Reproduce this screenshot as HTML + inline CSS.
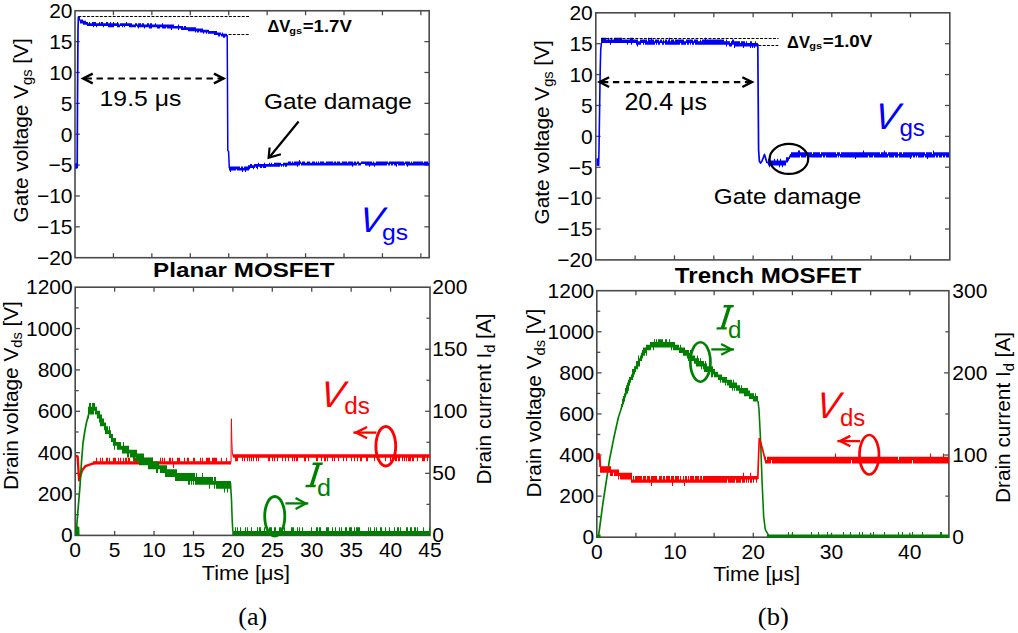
<!DOCTYPE html><html><head><meta charset="utf-8"><style>html,body{margin:0;padding:0;background:#fff;width:1018px;height:633px;overflow:hidden}svg{display:block}</style></head><body><svg width="1018" height="633" viewBox="0 0 1018 633" font-family="Liberation Sans, sans-serif">
<rect width="1018" height="633" fill="#fff"/>
<line x1="113.43" y1="257.70" x2="113.43" y2="253.20" stroke="#4a4a4a" stroke-width="1.3" />
<line x1="113.43" y1="10.75" x2="113.43" y2="15.25" stroke="#4a4a4a" stroke-width="1.3" />
<line x1="151.86" y1="257.70" x2="151.86" y2="253.20" stroke="#4a4a4a" stroke-width="1.3" />
<line x1="151.86" y1="10.75" x2="151.86" y2="15.25" stroke="#4a4a4a" stroke-width="1.3" />
<line x1="190.29" y1="257.70" x2="190.29" y2="253.20" stroke="#4a4a4a" stroke-width="1.3" />
<line x1="190.29" y1="10.75" x2="190.29" y2="15.25" stroke="#4a4a4a" stroke-width="1.3" />
<line x1="228.72" y1="257.70" x2="228.72" y2="253.20" stroke="#4a4a4a" stroke-width="1.3" />
<line x1="228.72" y1="10.75" x2="228.72" y2="15.25" stroke="#4a4a4a" stroke-width="1.3" />
<line x1="267.15" y1="257.70" x2="267.15" y2="253.20" stroke="#4a4a4a" stroke-width="1.3" />
<line x1="267.15" y1="10.75" x2="267.15" y2="15.25" stroke="#4a4a4a" stroke-width="1.3" />
<line x1="305.58" y1="257.70" x2="305.58" y2="253.20" stroke="#4a4a4a" stroke-width="1.3" />
<line x1="305.58" y1="10.75" x2="305.58" y2="15.25" stroke="#4a4a4a" stroke-width="1.3" />
<line x1="344.01" y1="257.70" x2="344.01" y2="253.20" stroke="#4a4a4a" stroke-width="1.3" />
<line x1="344.01" y1="10.75" x2="344.01" y2="15.25" stroke="#4a4a4a" stroke-width="1.3" />
<line x1="382.44" y1="257.70" x2="382.44" y2="253.20" stroke="#4a4a4a" stroke-width="1.3" />
<line x1="382.44" y1="10.75" x2="382.44" y2="15.25" stroke="#4a4a4a" stroke-width="1.3" />
<line x1="420.87" y1="257.70" x2="420.87" y2="253.20" stroke="#4a4a4a" stroke-width="1.3" />
<line x1="420.87" y1="10.75" x2="420.87" y2="15.25" stroke="#4a4a4a" stroke-width="1.3" />
<text x="72.50" y="18.05" font-size="21" text-anchor="end" fill="#000" >20</text>
<line x1="75.00" y1="41.62" x2="79.80" y2="41.62" stroke="#4a4a4a" stroke-width="1.3" />
<line x1="429.20" y1="41.62" x2="424.40" y2="41.62" stroke="#4a4a4a" stroke-width="1.3" />
<text x="72.50" y="48.92" font-size="21" text-anchor="end" fill="#000" >15</text>
<line x1="75.00" y1="72.49" x2="79.80" y2="72.49" stroke="#4a4a4a" stroke-width="1.3" />
<line x1="429.20" y1="72.49" x2="424.40" y2="72.49" stroke="#4a4a4a" stroke-width="1.3" />
<text x="72.50" y="79.79" font-size="21" text-anchor="end" fill="#000" >10</text>
<line x1="75.00" y1="103.36" x2="79.80" y2="103.36" stroke="#4a4a4a" stroke-width="1.3" />
<line x1="429.20" y1="103.36" x2="424.40" y2="103.36" stroke="#4a4a4a" stroke-width="1.3" />
<text x="72.50" y="110.66" font-size="21" text-anchor="end" fill="#000" >5</text>
<line x1="75.00" y1="134.22" x2="79.80" y2="134.22" stroke="#4a4a4a" stroke-width="1.3" />
<line x1="429.20" y1="134.22" x2="424.40" y2="134.22" stroke="#4a4a4a" stroke-width="1.3" />
<text x="72.50" y="141.53" font-size="21" text-anchor="end" fill="#000" >0</text>
<line x1="75.00" y1="165.09" x2="79.80" y2="165.09" stroke="#4a4a4a" stroke-width="1.3" />
<line x1="429.20" y1="165.09" x2="424.40" y2="165.09" stroke="#4a4a4a" stroke-width="1.3" />
<text x="72.50" y="172.39" font-size="21" text-anchor="end" fill="#000" >&#8722;5</text>
<line x1="75.00" y1="195.96" x2="79.80" y2="195.96" stroke="#4a4a4a" stroke-width="1.3" />
<line x1="429.20" y1="195.96" x2="424.40" y2="195.96" stroke="#4a4a4a" stroke-width="1.3" />
<text x="72.50" y="203.26" font-size="21" text-anchor="end" fill="#000" >&#8722;10</text>
<line x1="75.00" y1="226.83" x2="79.80" y2="226.83" stroke="#4a4a4a" stroke-width="1.3" />
<line x1="429.20" y1="226.83" x2="424.40" y2="226.83" stroke="#4a4a4a" stroke-width="1.3" />
<text x="72.50" y="234.13" font-size="21" text-anchor="end" fill="#000" >&#8722;15</text>
<text x="72.50" y="265.00" font-size="21" text-anchor="end" fill="#000" >&#8722;20</text>
<rect x="75.0" y="10.75" width="354.20" height="246.95" fill="none" stroke="#4a4a4a" stroke-width="1.6"/>
<line x1="635.13" y1="259.90" x2="635.13" y2="255.40" stroke="#4a4a4a" stroke-width="1.3" />
<line x1="635.13" y1="12.80" x2="635.13" y2="17.30" stroke="#4a4a4a" stroke-width="1.3" />
<line x1="674.47" y1="259.90" x2="674.47" y2="255.40" stroke="#4a4a4a" stroke-width="1.3" />
<line x1="674.47" y1="12.80" x2="674.47" y2="17.30" stroke="#4a4a4a" stroke-width="1.3" />
<line x1="713.80" y1="259.90" x2="713.80" y2="255.40" stroke="#4a4a4a" stroke-width="1.3" />
<line x1="713.80" y1="12.80" x2="713.80" y2="17.30" stroke="#4a4a4a" stroke-width="1.3" />
<line x1="753.13" y1="259.90" x2="753.13" y2="255.40" stroke="#4a4a4a" stroke-width="1.3" />
<line x1="753.13" y1="12.80" x2="753.13" y2="17.30" stroke="#4a4a4a" stroke-width="1.3" />
<line x1="792.47" y1="259.90" x2="792.47" y2="255.40" stroke="#4a4a4a" stroke-width="1.3" />
<line x1="792.47" y1="12.80" x2="792.47" y2="17.30" stroke="#4a4a4a" stroke-width="1.3" />
<line x1="831.80" y1="259.90" x2="831.80" y2="255.40" stroke="#4a4a4a" stroke-width="1.3" />
<line x1="831.80" y1="12.80" x2="831.80" y2="17.30" stroke="#4a4a4a" stroke-width="1.3" />
<line x1="871.13" y1="259.90" x2="871.13" y2="255.40" stroke="#4a4a4a" stroke-width="1.3" />
<line x1="871.13" y1="12.80" x2="871.13" y2="17.30" stroke="#4a4a4a" stroke-width="1.3" />
<line x1="910.47" y1="259.90" x2="910.47" y2="255.40" stroke="#4a4a4a" stroke-width="1.3" />
<line x1="910.47" y1="12.80" x2="910.47" y2="17.30" stroke="#4a4a4a" stroke-width="1.3" />
<text x="592.80" y="20.10" font-size="21" text-anchor="end" fill="#000" >20</text>
<line x1="595.80" y1="43.69" x2="600.60" y2="43.69" stroke="#4a4a4a" stroke-width="1.3" />
<line x1="949.80" y1="43.69" x2="945.00" y2="43.69" stroke="#4a4a4a" stroke-width="1.3" />
<text x="592.80" y="50.99" font-size="21" text-anchor="end" fill="#000" >15</text>
<line x1="595.80" y1="74.57" x2="600.60" y2="74.57" stroke="#4a4a4a" stroke-width="1.3" />
<line x1="949.80" y1="74.57" x2="945.00" y2="74.57" stroke="#4a4a4a" stroke-width="1.3" />
<text x="592.80" y="81.87" font-size="21" text-anchor="end" fill="#000" >10</text>
<line x1="595.80" y1="105.46" x2="600.60" y2="105.46" stroke="#4a4a4a" stroke-width="1.3" />
<line x1="949.80" y1="105.46" x2="945.00" y2="105.46" stroke="#4a4a4a" stroke-width="1.3" />
<text x="592.80" y="112.76" font-size="21" text-anchor="end" fill="#000" >5</text>
<line x1="595.80" y1="136.35" x2="600.60" y2="136.35" stroke="#4a4a4a" stroke-width="1.3" />
<line x1="949.80" y1="136.35" x2="945.00" y2="136.35" stroke="#4a4a4a" stroke-width="1.3" />
<text x="592.80" y="143.65" font-size="21" text-anchor="end" fill="#000" >0</text>
<line x1="595.80" y1="167.24" x2="600.60" y2="167.24" stroke="#4a4a4a" stroke-width="1.3" />
<line x1="949.80" y1="167.24" x2="945.00" y2="167.24" stroke="#4a4a4a" stroke-width="1.3" />
<text x="592.80" y="174.54" font-size="21" text-anchor="end" fill="#000" >&#8722;5</text>
<line x1="595.80" y1="198.12" x2="600.60" y2="198.12" stroke="#4a4a4a" stroke-width="1.3" />
<line x1="949.80" y1="198.12" x2="945.00" y2="198.12" stroke="#4a4a4a" stroke-width="1.3" />
<text x="592.80" y="205.43" font-size="21" text-anchor="end" fill="#000" >&#8722;10</text>
<line x1="595.80" y1="229.01" x2="600.60" y2="229.01" stroke="#4a4a4a" stroke-width="1.3" />
<line x1="949.80" y1="229.01" x2="945.00" y2="229.01" stroke="#4a4a4a" stroke-width="1.3" />
<text x="592.80" y="236.31" font-size="21" text-anchor="end" fill="#000" >&#8722;15</text>
<text x="592.80" y="267.20" font-size="21" text-anchor="end" fill="#000" >&#8722;20</text>
<rect x="595.8" y="12.8" width="354.00" height="247.10" fill="none" stroke="#4a4a4a" stroke-width="1.6"/>
<text x="75.20" y="557.20" font-size="21" text-anchor="middle" fill="#000" >0</text>
<line x1="114.62" y1="535.40" x2="114.62" y2="530.90" stroke="#4a4a4a" stroke-width="1.3" />
<line x1="114.62" y1="287.20" x2="114.62" y2="291.70" stroke="#4a4a4a" stroke-width="1.3" />
<text x="114.62" y="557.20" font-size="21" text-anchor="middle" fill="#000" >5</text>
<line x1="154.04" y1="535.40" x2="154.04" y2="530.90" stroke="#4a4a4a" stroke-width="1.3" />
<line x1="154.04" y1="287.20" x2="154.04" y2="291.70" stroke="#4a4a4a" stroke-width="1.3" />
<text x="154.04" y="557.20" font-size="21" text-anchor="middle" fill="#000" >10</text>
<line x1="193.47" y1="535.40" x2="193.47" y2="530.90" stroke="#4a4a4a" stroke-width="1.3" />
<line x1="193.47" y1="287.20" x2="193.47" y2="291.70" stroke="#4a4a4a" stroke-width="1.3" />
<text x="193.47" y="557.20" font-size="21" text-anchor="middle" fill="#000" >15</text>
<line x1="232.89" y1="535.40" x2="232.89" y2="530.90" stroke="#4a4a4a" stroke-width="1.3" />
<line x1="232.89" y1="287.20" x2="232.89" y2="291.70" stroke="#4a4a4a" stroke-width="1.3" />
<text x="232.89" y="557.20" font-size="21" text-anchor="middle" fill="#000" >20</text>
<line x1="272.31" y1="535.40" x2="272.31" y2="530.90" stroke="#4a4a4a" stroke-width="1.3" />
<line x1="272.31" y1="287.20" x2="272.31" y2="291.70" stroke="#4a4a4a" stroke-width="1.3" />
<text x="272.31" y="557.20" font-size="21" text-anchor="middle" fill="#000" >25</text>
<line x1="311.73" y1="535.40" x2="311.73" y2="530.90" stroke="#4a4a4a" stroke-width="1.3" />
<line x1="311.73" y1="287.20" x2="311.73" y2="291.70" stroke="#4a4a4a" stroke-width="1.3" />
<text x="311.73" y="557.20" font-size="21" text-anchor="middle" fill="#000" >30</text>
<line x1="351.16" y1="535.40" x2="351.16" y2="530.90" stroke="#4a4a4a" stroke-width="1.3" />
<line x1="351.16" y1="287.20" x2="351.16" y2="291.70" stroke="#4a4a4a" stroke-width="1.3" />
<text x="351.16" y="557.20" font-size="21" text-anchor="middle" fill="#000" >35</text>
<line x1="390.58" y1="535.40" x2="390.58" y2="530.90" stroke="#4a4a4a" stroke-width="1.3" />
<line x1="390.58" y1="287.20" x2="390.58" y2="291.70" stroke="#4a4a4a" stroke-width="1.3" />
<text x="390.58" y="557.20" font-size="21" text-anchor="middle" fill="#000" >40</text>
<text x="430.00" y="557.20" font-size="21" text-anchor="middle" fill="#000" >45</text>
<text x="72.70" y="542.40" font-size="21" text-anchor="end" fill="#000" >0</text>
<line x1="75.20" y1="514.72" x2="78.70" y2="514.72" stroke="#4a4a4a" stroke-width="1.3" />
<line x1="75.20" y1="494.03" x2="80.00" y2="494.03" stroke="#4a4a4a" stroke-width="1.3" />
<text x="72.70" y="501.03" font-size="21" text-anchor="end" fill="#000" >200</text>
<line x1="75.20" y1="473.35" x2="78.70" y2="473.35" stroke="#4a4a4a" stroke-width="1.3" />
<line x1="75.20" y1="452.67" x2="80.00" y2="452.67" stroke="#4a4a4a" stroke-width="1.3" />
<text x="72.70" y="459.67" font-size="21" text-anchor="end" fill="#000" >400</text>
<line x1="75.20" y1="431.98" x2="78.70" y2="431.98" stroke="#4a4a4a" stroke-width="1.3" />
<line x1="75.20" y1="411.30" x2="80.00" y2="411.30" stroke="#4a4a4a" stroke-width="1.3" />
<text x="72.70" y="418.30" font-size="21" text-anchor="end" fill="#000" >600</text>
<line x1="75.20" y1="390.62" x2="78.70" y2="390.62" stroke="#4a4a4a" stroke-width="1.3" />
<line x1="75.20" y1="369.93" x2="80.00" y2="369.93" stroke="#4a4a4a" stroke-width="1.3" />
<text x="72.70" y="376.93" font-size="21" text-anchor="end" fill="#000" >800</text>
<line x1="75.20" y1="349.25" x2="78.70" y2="349.25" stroke="#4a4a4a" stroke-width="1.3" />
<line x1="75.20" y1="328.57" x2="80.00" y2="328.57" stroke="#4a4a4a" stroke-width="1.3" />
<text x="72.70" y="335.57" font-size="21" text-anchor="end" fill="#000" >1000</text>
<line x1="75.20" y1="307.88" x2="78.70" y2="307.88" stroke="#4a4a4a" stroke-width="1.3" />
<text x="72.70" y="294.20" font-size="21" text-anchor="end" fill="#000" >1200</text>
<text x="432.30" y="542.40" font-size="21" text-anchor="start" fill="#000" >0</text>
<line x1="430.00" y1="504.38" x2="426.50" y2="504.38" stroke="#4a4a4a" stroke-width="1.3" />
<line x1="430.00" y1="473.35" x2="425.20" y2="473.35" stroke="#4a4a4a" stroke-width="1.3" />
<text x="432.30" y="480.35" font-size="21" text-anchor="start" fill="#000" >50</text>
<line x1="430.00" y1="442.32" x2="426.50" y2="442.32" stroke="#4a4a4a" stroke-width="1.3" />
<line x1="430.00" y1="411.30" x2="425.20" y2="411.30" stroke="#4a4a4a" stroke-width="1.3" />
<text x="432.30" y="418.30" font-size="21" text-anchor="start" fill="#000" >100</text>
<line x1="430.00" y1="380.27" x2="426.50" y2="380.27" stroke="#4a4a4a" stroke-width="1.3" />
<line x1="430.00" y1="349.25" x2="425.20" y2="349.25" stroke="#4a4a4a" stroke-width="1.3" />
<text x="432.30" y="356.25" font-size="21" text-anchor="start" fill="#000" >150</text>
<line x1="430.00" y1="318.23" x2="426.50" y2="318.23" stroke="#4a4a4a" stroke-width="1.3" />
<text x="432.30" y="294.20" font-size="21" text-anchor="start" fill="#000" >200</text>
<rect x="75.2" y="287.2" width="354.80" height="248.20" fill="none" stroke="#4a4a4a" stroke-width="1.6"/>
<text x="596.80" y="559.00" font-size="21" text-anchor="middle" fill="#000" >0</text>
<line x1="635.92" y1="537.20" x2="635.92" y2="532.70" stroke="#4a4a4a" stroke-width="1.3" />
<line x1="635.92" y1="290.70" x2="635.92" y2="295.20" stroke="#4a4a4a" stroke-width="1.3" />
<line x1="675.04" y1="537.20" x2="675.04" y2="532.70" stroke="#4a4a4a" stroke-width="1.3" />
<line x1="675.04" y1="290.70" x2="675.04" y2="295.20" stroke="#4a4a4a" stroke-width="1.3" />
<text x="675.04" y="559.00" font-size="21" text-anchor="middle" fill="#000" >10</text>
<line x1="714.17" y1="537.20" x2="714.17" y2="532.70" stroke="#4a4a4a" stroke-width="1.3" />
<line x1="714.17" y1="290.70" x2="714.17" y2="295.20" stroke="#4a4a4a" stroke-width="1.3" />
<line x1="753.29" y1="537.20" x2="753.29" y2="532.70" stroke="#4a4a4a" stroke-width="1.3" />
<line x1="753.29" y1="290.70" x2="753.29" y2="295.20" stroke="#4a4a4a" stroke-width="1.3" />
<text x="753.29" y="559.00" font-size="21" text-anchor="middle" fill="#000" >20</text>
<line x1="792.41" y1="537.20" x2="792.41" y2="532.70" stroke="#4a4a4a" stroke-width="1.3" />
<line x1="792.41" y1="290.70" x2="792.41" y2="295.20" stroke="#4a4a4a" stroke-width="1.3" />
<line x1="831.53" y1="537.20" x2="831.53" y2="532.70" stroke="#4a4a4a" stroke-width="1.3" />
<line x1="831.53" y1="290.70" x2="831.53" y2="295.20" stroke="#4a4a4a" stroke-width="1.3" />
<text x="831.53" y="559.00" font-size="21" text-anchor="middle" fill="#000" >30</text>
<line x1="870.66" y1="537.20" x2="870.66" y2="532.70" stroke="#4a4a4a" stroke-width="1.3" />
<line x1="870.66" y1="290.70" x2="870.66" y2="295.20" stroke="#4a4a4a" stroke-width="1.3" />
<line x1="909.78" y1="537.20" x2="909.78" y2="532.70" stroke="#4a4a4a" stroke-width="1.3" />
<line x1="909.78" y1="290.70" x2="909.78" y2="295.20" stroke="#4a4a4a" stroke-width="1.3" />
<text x="909.78" y="559.00" font-size="21" text-anchor="middle" fill="#000" >40</text>
<text x="594.30" y="544.20" font-size="21" text-anchor="end" fill="#000" >0</text>
<line x1="596.80" y1="516.66" x2="600.30" y2="516.66" stroke="#4a4a4a" stroke-width="1.3" />
<line x1="596.80" y1="496.12" x2="601.60" y2="496.12" stroke="#4a4a4a" stroke-width="1.3" />
<text x="594.30" y="503.12" font-size="21" text-anchor="end" fill="#000" >200</text>
<line x1="596.80" y1="475.58" x2="600.30" y2="475.58" stroke="#4a4a4a" stroke-width="1.3" />
<line x1="596.80" y1="455.03" x2="601.60" y2="455.03" stroke="#4a4a4a" stroke-width="1.3" />
<text x="594.30" y="462.03" font-size="21" text-anchor="end" fill="#000" >400</text>
<line x1="596.80" y1="434.49" x2="600.30" y2="434.49" stroke="#4a4a4a" stroke-width="1.3" />
<line x1="596.80" y1="413.95" x2="601.60" y2="413.95" stroke="#4a4a4a" stroke-width="1.3" />
<text x="594.30" y="420.95" font-size="21" text-anchor="end" fill="#000" >600</text>
<line x1="596.80" y1="393.41" x2="600.30" y2="393.41" stroke="#4a4a4a" stroke-width="1.3" />
<line x1="596.80" y1="372.87" x2="601.60" y2="372.87" stroke="#4a4a4a" stroke-width="1.3" />
<text x="594.30" y="379.87" font-size="21" text-anchor="end" fill="#000" >800</text>
<line x1="596.80" y1="352.32" x2="600.30" y2="352.32" stroke="#4a4a4a" stroke-width="1.3" />
<line x1="596.80" y1="331.78" x2="601.60" y2="331.78" stroke="#4a4a4a" stroke-width="1.3" />
<text x="594.30" y="338.78" font-size="21" text-anchor="end" fill="#000" >1000</text>
<line x1="596.80" y1="311.24" x2="600.30" y2="311.24" stroke="#4a4a4a" stroke-width="1.3" />
<text x="594.30" y="297.70" font-size="21" text-anchor="end" fill="#000" >1200</text>
<text x="952.30" y="544.20" font-size="21" text-anchor="start" fill="#000" >0</text>
<line x1="948.90" y1="496.12" x2="945.40" y2="496.12" stroke="#4a4a4a" stroke-width="1.3" />
<line x1="948.90" y1="455.03" x2="944.10" y2="455.03" stroke="#4a4a4a" stroke-width="1.3" />
<text x="952.30" y="462.03" font-size="21" text-anchor="start" fill="#000" >100</text>
<line x1="948.90" y1="413.95" x2="945.40" y2="413.95" stroke="#4a4a4a" stroke-width="1.3" />
<line x1="948.90" y1="372.87" x2="944.10" y2="372.87" stroke="#4a4a4a" stroke-width="1.3" />
<text x="952.30" y="379.87" font-size="21" text-anchor="start" fill="#000" >200</text>
<line x1="948.90" y1="331.78" x2="945.40" y2="331.78" stroke="#4a4a4a" stroke-width="1.3" />
<text x="952.30" y="297.70" font-size="21" text-anchor="start" fill="#000" >300</text>
<rect x="596.8" y="290.7" width="352.10" height="246.50" fill="none" stroke="#4a4a4a" stroke-width="1.6"/>
<text transform="translate(27.80,130.40) rotate(-90)" font-size="20.8" text-anchor="middle">Gate voltage V<tspan font-size="14.6" dy="4">gs</tspan><tspan dy="-4"> [V]</tspan></text>
<text transform="translate(548.80,132.30) rotate(-90)" font-size="20.8" text-anchor="middle">Gate voltage V<tspan font-size="14.6" dy="4">gs</tspan><tspan dy="-4"> [V]</tspan></text>
<text transform="translate(18.20,395.50) rotate(-90)" font-size="20.8" text-anchor="middle">Drain voltage V<tspan font-size="14.6" dy="4">ds</tspan><tspan dy="-4"> [V]</tspan></text>
<text transform="translate(541.20,403.20) rotate(-90)" font-size="20.8" text-anchor="middle">Drain voltage V<tspan font-size="14.6" dy="4">ds</tspan><tspan dy="-4"> [V]</tspan></text>
<text transform="translate(490.60,399.00) rotate(-90)" font-size="20.8" text-anchor="middle">Drain current I<tspan font-size="14.6" dy="4">d</tspan><tspan dy="-4"> [A]</tspan></text>
<text transform="translate(1010.40,417.50) rotate(-90)" font-size="20.8" text-anchor="middle">Drain current I<tspan font-size="14.6" dy="4">d</tspan><tspan dy="-4"> [A]</tspan></text>
<path d="M75.3,166.0 L77.4,166.0" fill="none" stroke="#0000ff" stroke-width="5.5" stroke-linejoin="round" stroke-linecap="butt"/>
<path d="M77.2,168.0 L77.5,100.0 L78.0,30.0 L78.4,16.5" fill="none" stroke="#0000ff" stroke-width="1.7" stroke-linejoin="round" stroke-linecap="butt"/>
<path d="M78.5,16.80V20.80M79.5,16.80V20.80M80.5,19.40V23.40M81.5,19.40V23.40M82.5,19.40V23.40M83.5,20.70V24.70M84.5,20.70V24.70M85.5,20.70V24.70M86.5,22.00V24.70M87.5,22.00V26.00M88.5,23.30V26.00M89.5,22.00V26.00M90.5,23.30V26.00M91.5,23.30V26.00M92.5,22.00V26.00M93.5,22.00V27.30M94.5,22.00V26.00M95.5,22.00V26.00M96.5,23.30V27.30M97.5,23.30V26.00M98.5,23.30V26.00M99.5,22.00V26.00M100.5,23.30V26.00M101.5,22.00V26.00M102.5,22.00V26.00M103.5,23.30V27.30M104.5,23.30V26.00M105.5,23.30V26.00M106.5,22.00V26.00M107.5,22.00V26.00M108.5,23.30V27.30M109.5,23.30V27.30M110.5,22.00V27.30M111.5,23.30V27.30M112.5,23.30V27.30M113.5,22.00V27.30M114.5,23.30V26.00M115.5,23.30V26.00M116.5,23.30V26.00M117.5,22.00V27.30M118.5,23.30V27.30M119.5,24.60V27.30M120.5,23.30V26.00M121.5,23.30V26.00M122.5,23.30V27.30M123.5,23.30V26.00M124.5,23.30V27.30M125.5,23.30V26.00M126.5,22.00V26.00M127.5,23.30V26.00M128.5,23.30V26.00M129.5,23.30V27.30M130.5,23.30V27.30M131.5,23.30V27.30M132.5,24.60V27.30M133.5,24.60V27.30M134.5,24.60V27.30M135.5,23.30V27.30M136.5,23.30V26.00M137.5,24.60V27.30M138.5,23.30V28.60M139.5,23.30V27.30M140.5,23.30V27.30M141.5,24.60V27.30M142.5,23.30V27.30M143.5,23.30V27.30M144.5,24.60V28.60M145.5,24.60V27.30M146.5,24.60V27.30M147.5,23.30V27.30M148.5,23.30V27.30M149.5,24.60V28.60M150.5,23.30V28.60M151.5,23.30V28.60M152.5,24.60V27.30M153.5,24.60V27.30M154.5,24.60V27.30M155.5,23.30V27.30M156.5,24.60V27.30M157.5,24.60V28.60M158.5,24.60V28.60M159.5,24.60V28.60M160.5,24.60V27.30M161.5,24.60V27.30M162.5,23.30V28.60M163.5,24.60V28.60M164.5,24.60V28.60M165.5,24.60V28.60M166.5,24.60V27.30M167.5,24.60V28.60M168.5,24.60V28.60M169.5,24.60V28.60M170.5,24.60V28.60M171.5,24.60V29.90M172.5,24.60V28.60M173.5,24.60V28.60M174.5,25.90V28.60M175.5,25.90V28.60M176.5,25.90V28.60M177.5,25.90V28.60M178.5,24.60V29.90M179.5,25.90V28.60M180.5,25.90V28.60M181.5,25.90V29.90M182.5,25.90V29.90M183.5,27.20V29.90M184.5,25.90V29.90M185.5,25.90V29.90M186.5,27.20V29.90M187.5,27.20V29.90M188.5,27.20V31.20M189.5,27.20V31.20M190.5,27.20V31.20M191.5,27.20V31.20M192.5,27.20V31.20M193.5,27.20V31.20M194.5,27.20V31.20M195.5,27.20V32.50M196.5,28.50V31.20M197.5,28.50V32.50M198.5,28.50V32.50M199.5,28.50V31.20M200.5,28.50V32.50M201.5,28.50V32.50M202.5,28.50V32.50M203.5,29.80V33.80M204.5,29.80V32.50M205.5,29.80V32.50M206.5,29.80V33.80M207.5,29.80V32.50M208.5,29.80V33.80M209.5,31.10V33.80M210.5,31.10V33.80M211.5,31.10V33.80M212.5,31.10V33.80M213.5,31.10V33.80M214.5,31.10V35.10M215.5,31.10V35.10M216.5,31.10V35.10M217.5,32.40V35.10M218.5,32.40V36.40M219.5,32.40V36.40M220.5,32.40V35.10M221.5,33.70V36.40M222.5,32.40V36.40M223.5,33.70V37.70M224.5,33.70V37.70M225.5,33.70V36.40M226.5,33.70V36.40" stroke="#0000ff" stroke-width="1.05" fill="none"/>
<path d="M227.2,35.0 L227.5,90.0 L227.8,150.6 L228.6,151.5 L229.3,168.0" fill="none" stroke="#0000ff" stroke-width="1.5" stroke-linejoin="round" stroke-linecap="butt"/>
<path d="M229.5,166.60V170.60M230.5,166.60V171.90M231.5,166.60V170.60M232.5,166.60V170.60M233.5,166.60V170.60M234.5,166.60V170.60M235.5,166.60V170.60M236.5,166.60V169.30M237.5,166.60V170.60M238.5,166.60V170.60M239.5,166.60V170.60M240.5,167.90V170.60M241.5,166.60V170.60M242.5,166.60V171.90M243.5,167.90V170.60M244.5,166.60V170.60M245.5,166.60V171.90M246.5,166.60V170.60M247.5,166.60V170.60M248.5,165.30V170.60M249.5,165.30V169.30M250.5,164.00V168.00M251.5,164.00V168.00M252.5,165.30V168.00M253.5,165.30V169.30M254.5,164.00V168.00M255.5,164.00V166.70M256.5,164.00V168.00M257.5,164.00V169.30M258.5,162.70V166.70M259.5,164.00V166.70M260.5,164.00V168.00M261.5,164.00V168.00M262.5,164.00V166.70M263.5,164.00V168.00M264.5,162.70V168.00M265.5,164.00V168.00M266.5,164.00V166.70M267.5,164.00V166.70M268.5,164.00V166.70M269.5,162.70V166.70M270.5,164.00V166.70M271.5,162.70V166.70M272.5,164.00V166.70M273.5,164.00V166.70M274.5,162.70V166.70M275.5,162.70V166.70M276.5,162.70V166.70M277.5,162.70V166.70M278.5,162.70V166.70M279.5,162.70V166.70M280.5,162.70V165.40M281.5,164.00V166.70M282.5,164.00V165.40M283.5,162.70V166.70M284.5,162.70V165.40M285.5,162.70V166.70M286.5,162.70V166.70M287.5,162.70V165.40M288.5,161.40V165.40M289.5,161.40V165.40M290.5,161.40V165.40M291.5,162.70V165.40M292.5,161.40V165.40M293.5,162.70V165.40M294.5,161.40V165.40M295.5,161.40V165.40M296.5,161.40V165.40M297.5,161.40V166.70M298.5,161.40V165.40M299.5,160.10V165.40M300.5,161.40V164.10M301.5,162.70V165.40M302.5,161.40V165.40M303.5,161.40V165.40M304.5,161.40V165.40M305.5,162.70V165.40M306.5,162.70V165.40M307.5,161.40V165.40M308.5,161.40V165.40M309.5,161.40V165.40M310.5,162.70V165.40M311.5,162.70V165.40M312.5,161.40V165.40M313.5,161.40V165.40M314.5,161.40V165.40M315.5,162.70V165.40M316.5,161.40V165.40M317.5,162.70V165.40M318.5,161.40V165.40M319.5,162.70V165.40M320.5,161.40V165.40M321.5,161.40V165.40M322.5,161.40V165.40M323.5,161.40V165.40M324.5,162.70V165.40M325.5,162.70V165.40M326.5,161.40V165.40M327.5,161.40V165.40M328.5,161.40V165.40M329.5,161.40V165.40M330.5,161.40V165.40M331.5,161.40V165.40M332.5,161.40V165.40M333.5,162.70V165.40M334.5,161.40V165.40M335.5,161.40V165.40M336.5,162.70V165.40M337.5,161.40V165.40M338.5,161.40V165.40M339.5,161.40V165.40M340.5,162.70V165.40M341.5,162.70V165.40M342.5,161.40V165.40M343.5,161.40V165.40M344.5,161.40V165.40M345.5,161.40V165.40M346.5,161.40V165.40M347.5,162.70V165.40M348.5,161.40V165.40M349.5,161.40V165.40M350.5,161.40V165.40M351.5,161.40V165.40M352.5,161.40V166.70M353.5,162.70V165.40M354.5,161.40V165.40M355.5,161.40V165.40M356.5,162.70V165.40M357.5,161.40V164.10M358.5,161.40V165.40M359.5,162.70V165.40M360.5,162.70V165.40M361.5,161.40V164.10M362.5,161.40V164.10M363.5,161.40V164.10M364.5,161.40V164.10M365.5,161.40V165.40M366.5,161.40V165.40M367.5,161.40V165.40M368.5,161.40V165.40M369.5,161.40V166.70M370.5,161.40V165.40M371.5,161.40V165.40M372.5,162.70V165.40M373.5,161.40V165.40M374.5,162.70V166.70M375.5,162.70V165.40M376.5,161.40V165.40M377.5,161.40V165.40M378.5,161.40V165.40M379.5,161.40V165.40M380.5,161.40V165.40M381.5,161.40V165.40M382.5,161.40V165.40M383.5,161.40V165.40M384.5,161.40V165.40M385.5,161.40V165.40M386.5,161.40V165.40M387.5,161.40V164.10M388.5,162.70V165.40M389.5,161.40V165.40M390.5,161.40V164.10M391.5,161.40V165.40M392.5,161.40V165.40M393.5,161.40V164.10M394.5,161.40V165.40M395.5,161.40V165.40M396.5,161.40V166.70M397.5,161.40V164.10M398.5,161.40V165.40M399.5,161.40V165.40M400.5,161.40V165.40M401.5,161.40V165.40M402.5,161.40V165.40M403.5,161.40V165.40M404.5,162.70V165.40M405.5,161.40V164.10M406.5,161.40V165.40M407.5,161.40V166.70M408.5,161.40V165.40M409.5,161.40V165.40M410.5,162.70V165.40M411.5,161.40V165.40M412.5,162.70V165.40M413.5,161.40V165.40M414.5,161.40V165.40M415.5,161.40V165.40M416.5,161.40V165.40M417.5,161.40V165.40M418.5,161.40V165.40M419.5,161.40V165.40M420.5,161.40V165.40M421.5,161.40V165.40M422.5,161.40V165.40M423.5,162.70V165.40M424.5,161.40V165.40M425.5,161.40V165.40M426.5,161.40V165.40M427.5,161.40V165.40M428.5,162.70V165.40" stroke="#0000ff" stroke-width="1.05" fill="none"/>
<path d="M596.5,162.0 L598.6,162.0" fill="none" stroke="#0000ff" stroke-width="7.5" stroke-linejoin="round" stroke-linecap="butt"/>
<path d="M598.6,166.0 L599.0,150.0 L599.6,110.0 L600.2,70.0 L600.7,50.0 L601.4,43.0" fill="none" stroke="#0000ff" stroke-width="1.6" stroke-linejoin="round" stroke-linecap="butt"/>
<path d="M601.5,37.80V43.00M602.5,37.80V43.00M603.5,37.80V43.00M604.5,37.80V43.00M605.5,37.80V43.00M606.5,39.50V43.00M607.5,39.50V43.00M608.5,37.80V43.00M609.5,39.50V43.00M610.5,39.50V44.70M611.5,37.80V43.00M612.5,39.50V43.00M613.5,39.50V43.00M614.5,37.80V43.00M615.5,37.80V43.00M616.5,37.80V43.00M617.5,37.80V43.00M618.5,37.80V43.00M619.5,37.80V43.00M620.5,37.80V43.00M621.5,37.80V43.00M622.5,39.50V43.00M623.5,39.50V43.00M624.5,39.50V43.00M625.5,39.50V43.00M626.5,39.50V43.00M627.5,39.50V44.70M628.5,39.50V43.00M629.5,39.50V43.00M630.5,37.80V43.00M631.5,37.80V44.70M632.5,37.80V43.00M633.5,39.50V43.00M634.5,39.50V43.00M635.5,39.50V43.00M636.5,39.50V44.70M637.5,39.50V46.40M638.5,41.20V44.70M639.5,41.20V44.70M640.5,39.50V44.70M641.5,39.50V43.00M642.5,39.50V43.00M643.5,39.50V44.70M644.5,39.50V43.00M645.5,39.50V44.70M646.5,39.50V44.70M647.5,41.20V44.70M648.5,37.80V44.70M649.5,39.50V44.70M650.5,39.50V44.70M651.5,37.80V44.70M652.5,39.50V44.70M653.5,39.50V44.70M654.5,41.20V44.70M655.5,39.50V43.00M656.5,39.50V44.70M657.5,39.50V43.00M658.5,39.50V44.70M659.5,41.20V44.70M660.5,39.50V43.00M661.5,39.50V43.00M662.5,41.20V44.70M663.5,39.50V44.70M664.5,41.20V43.00M665.5,39.50V44.70M666.5,39.50V44.70M667.5,41.20V44.70M668.5,39.50V44.70M669.5,37.80V44.70M670.5,41.20V44.70M671.5,39.50V44.70M672.5,39.50V44.70M673.5,39.50V44.70M674.5,41.20V44.70M675.5,39.50V44.70M676.5,39.50V44.70M677.5,39.50V44.70M678.5,39.50V44.70M679.5,39.50V44.70M680.5,39.50V43.00M681.5,39.50V44.70M682.5,39.50V44.70M683.5,39.50V44.70M684.5,41.20V44.70M685.5,41.20V44.70M686.5,39.50V43.00M687.5,39.50V44.70M688.5,39.50V44.70M689.5,39.50V43.00M690.5,39.50V44.70M691.5,39.50V43.00M692.5,39.50V44.70M693.5,41.20V44.70M694.5,39.50V43.00M695.5,39.50V44.70M696.5,39.50V44.70M697.5,39.50V44.70M698.5,41.20V44.70M699.5,41.20V44.70M700.5,39.50V44.70M701.5,41.20V44.70M702.5,39.50V44.70M703.5,39.50V44.70M704.5,39.50V44.70M705.5,37.80V44.70M706.5,39.50V44.70M707.5,39.50V44.70M708.5,39.50V44.70M709.5,39.50V44.70M710.5,39.50V44.70M711.5,39.50V44.70M712.5,39.50V44.70M713.5,39.50V44.70M714.5,39.50V44.70M715.5,39.50V44.70M716.5,39.50V44.70M717.5,39.50V44.70M718.5,39.50V44.70M719.5,39.50V44.70M720.5,39.50V44.70M721.5,39.50V44.70M722.5,39.50V44.70M723.5,39.50V44.70M724.5,41.20V44.70M725.5,41.20V44.70M726.5,39.50V46.40M727.5,41.20V44.70M728.5,41.20V44.70M729.5,41.20V46.40M730.5,42.90V46.40M731.5,41.20V46.40M732.5,39.50V44.70M733.5,39.50V44.70M734.5,41.20V48.10M735.5,41.20V46.40M736.5,41.20V46.40M737.5,41.20V46.40M738.5,41.20V46.40M739.5,41.20V46.40M740.5,42.90V46.40M741.5,41.20V46.40M742.5,41.20V46.40M743.5,41.20V48.10M744.5,41.20V46.40M745.5,42.90V46.40M746.5,41.20V46.40M747.5,42.90V46.40M748.5,42.90V46.40M749.5,42.90V46.40M750.5,41.20V48.10M751.5,41.20V46.40M752.5,42.90V48.10M753.5,42.90V46.40M754.5,42.90V48.10M755.5,41.20V46.40M756.5,42.90V46.40M757.5,42.90V48.10" stroke="#0000ff" stroke-width="1.05" fill="none"/>
<path d="M757.8,44.0 L758.2,100.0 L758.6,150.0 L759.4,161.5 L760.6,163.0 L762.0,161.0 L764.5,154.5 L766.9,162.4 L768.9,163.0" fill="none" stroke="#0000ff" stroke-width="1.7" stroke-linejoin="round" stroke-linecap="butt"/>
<path d="M768.5,158.70V165.60M769.5,160.40V167.30M770.5,160.40V165.60M771.5,160.40V165.60M772.5,160.40V165.60M773.5,160.40V165.60M774.5,158.70V165.60M775.5,160.40V165.60M776.5,160.40V165.60M777.5,158.70V165.60M778.5,160.40V165.60M779.5,160.40V167.30M780.5,158.70V165.60M781.5,160.40V165.60M782.5,160.40V167.30M783.5,160.40V165.60M784.5,160.40V165.60M785.5,160.40V165.60" stroke="#0000ff" stroke-width="1.05" fill="none"/>
<path d="M786.5,157.30V162.50M787.5,157.30V162.50M788.5,157.30V160.80M789.5,155.60V159.10M790.5,153.90V157.40M791.5,152.20V157.40M792.5,152.20V157.40M793.5,152.20V157.40M794.5,152.20V157.40M795.5,152.20V157.40M796.5,152.20V157.40M797.5,152.20V157.40M798.5,150.50V157.40M799.5,150.50V157.40M800.5,152.20V155.70M801.5,152.20V157.40M802.5,152.20V157.40M803.5,152.20V157.40M804.5,152.20V157.40M805.5,152.20V157.40M806.5,152.20V155.70M807.5,152.20V155.70M808.5,152.20V157.40M809.5,152.20V157.40M810.5,152.20V157.40M811.5,152.20V157.40M812.5,153.90V157.40M813.5,152.20V157.40M814.5,152.20V157.40M815.5,152.20V157.40M816.5,152.20V157.40M817.5,152.20V157.40M818.5,152.20V157.40M819.5,152.20V157.40M820.5,153.90V157.40M821.5,152.20V157.40M822.5,152.20V155.70M823.5,152.20V157.40M824.5,152.20V157.40M825.5,152.20V155.70M826.5,152.20V157.40M827.5,152.20V157.40M828.5,152.20V157.40M829.5,152.20V157.40M830.5,152.20V157.40M831.5,152.20V157.40M832.5,152.20V157.40M833.5,152.20V157.40M834.5,152.20V157.40M835.5,152.20V157.40M836.5,153.90V157.40M837.5,152.20V155.70M838.5,152.20V157.40M839.5,152.20V155.70M840.5,153.90V157.40M841.5,152.20V157.40M842.5,152.20V157.40M843.5,152.20V157.40M844.5,152.20V157.40M845.5,152.20V157.40M846.5,152.20V157.40M847.5,152.20V157.40M848.5,152.20V157.40M849.5,152.20V157.40M850.5,152.20V157.40M851.5,152.20V157.40M852.5,152.20V157.40M853.5,152.20V157.40M854.5,152.20V157.40M855.5,152.20V159.10M856.5,152.20V157.40M857.5,152.20V157.40M858.5,152.20V157.40M859.5,152.20V157.40M860.5,152.20V157.40M861.5,152.20V157.40M862.5,152.20V157.40M863.5,150.50V157.40M864.5,152.20V157.40M865.5,152.20V157.40M866.5,152.20V157.40M867.5,152.20V157.40M868.5,152.20V155.70M869.5,152.20V157.40M870.5,152.20V157.40M871.5,152.20V157.40M872.5,152.20V157.40M873.5,152.20V155.70M874.5,152.20V157.40M875.5,152.20V157.40M876.5,152.20V157.40M877.5,152.20V157.40M878.5,152.20V157.40M879.5,152.20V157.40M880.5,153.90V157.40M881.5,152.20V157.40M882.5,152.20V157.40M883.5,152.20V157.40M884.5,150.50V157.40M885.5,152.20V157.40M886.5,152.20V157.40M887.5,153.90V157.40M888.5,152.20V155.70M889.5,152.20V157.40M890.5,152.20V157.40M891.5,152.20V157.40M892.5,152.20V157.40M893.5,152.20V157.40M894.5,152.20V155.70M895.5,152.20V157.40M896.5,152.20V157.40M897.5,152.20V157.40M898.5,153.90V155.70M899.5,152.20V157.40M900.5,152.20V157.40M901.5,152.20V157.40M902.5,153.90V157.40M903.5,152.20V157.40M904.5,152.20V157.40M905.5,152.20V157.40M906.5,152.20V157.40M907.5,152.20V157.40M908.5,152.20V157.40M909.5,152.20V157.40M910.5,152.20V159.10M911.5,152.20V157.40M912.5,152.20V155.70M913.5,152.20V157.40M914.5,152.20V157.40M915.5,152.20V155.70M916.5,152.20V157.40M917.5,152.20V155.70M918.5,152.20V157.40M919.5,152.20V157.40M920.5,152.20V157.40M921.5,152.20V157.40M922.5,152.20V157.40M923.5,152.20V157.40M924.5,152.20V155.70M925.5,153.90V157.40M926.5,152.20V157.40M927.5,152.20V159.10M928.5,152.20V157.40M929.5,152.20V157.40M930.5,152.20V157.40M931.5,152.20V157.40M932.5,153.90V157.40M933.5,150.50V157.40M934.5,152.20V157.40M935.5,152.20V155.70M936.5,152.20V157.40M937.5,152.20V157.40M938.5,152.20V155.70M939.5,152.20V157.40M940.5,152.20V157.40M941.5,152.20V157.40M942.5,152.20V155.70M943.5,152.20V157.40M944.5,152.20V157.40M945.5,152.20V155.70M946.5,152.20V157.40M947.5,152.20V157.40M948.5,152.20V157.40" stroke="#0000ff" stroke-width="1.05" fill="none"/>
<path d="M75.3,455.8 L77.6,456.5 L79.1,480.3 L82.0,470.4 L85.5,466.1 L93.3,463.3 L96.0,462.8" fill="none" stroke="#ff0000" stroke-width="2.4" stroke-linejoin="round" stroke-linecap="butt"/>
<path d="M93.5,461.25V464.55M94.5,461.25V464.55M95.5,461.25V464.55M96.5,457.80V464.55M97.5,461.25V464.55M98.5,461.25V464.55M99.5,461.25V464.55M100.5,457.80V464.55M101.5,461.25V464.55M102.5,457.80V464.55M103.5,461.25V464.55M104.5,461.25V464.55M105.5,461.25V464.55M106.5,457.80V464.55M107.5,457.80V464.55M108.5,461.25V464.55M109.5,457.80V464.55M110.5,461.25V464.55M111.5,461.25V464.55M112.5,461.25V464.55M113.5,457.80V464.55M114.5,457.80V464.55M115.5,457.80V464.55M116.5,461.25V464.55M117.5,461.25V464.55M118.5,457.80V464.55M119.5,461.25V464.55M120.5,457.80V464.55M121.5,461.25V464.55M122.5,461.25V464.55M123.5,457.80V464.55M124.5,461.25V464.55M125.5,457.80V464.55M126.5,457.80V464.55M127.5,461.25V464.55M128.5,457.80V464.55M129.5,457.80V464.55M130.5,461.25V464.55M131.5,461.25V464.55M132.5,461.25V464.55M133.5,461.25V464.55M134.5,461.25V464.55M135.5,457.80V464.55M136.5,457.80V464.55M137.5,461.25V464.55M138.5,461.25V464.55M139.5,457.80V464.55M140.5,457.80V464.55M141.5,461.25V464.55M142.5,457.80V464.55M143.5,457.80V464.55M144.5,461.25V464.55M145.5,461.25V464.55M146.5,457.80V464.55M147.5,461.25V464.55M148.5,457.80V464.55M149.5,461.25V464.55M150.5,457.80V464.55M151.5,461.25V464.55M152.5,457.80V464.55M153.5,461.25V464.55M154.5,461.25V464.55M155.5,461.25V464.55M156.5,461.25V464.55M157.5,461.25V464.55M158.5,461.25V464.55M159.5,461.25V464.55M160.5,457.80V464.55M161.5,461.25V464.55M162.5,457.80V464.55M163.5,461.25V464.55M164.5,457.80V464.55M165.5,461.25V464.55M166.5,461.25V464.55M167.5,461.25V464.55M168.5,461.25V464.55M169.5,457.80V464.55M170.5,457.80V464.55M171.5,461.25V464.55M172.5,457.80V464.55M173.5,461.25V468.00M174.5,461.25V464.55M175.5,461.25V464.55M176.5,461.25V464.55M177.5,457.80V464.55M178.5,457.80V464.55M179.5,457.80V464.55M180.5,461.25V464.55M181.5,461.25V464.55M182.5,461.25V464.55M183.5,461.25V464.55M184.5,457.80V464.55M185.5,461.25V464.55M186.5,461.25V464.55M187.5,457.80V464.55M188.5,457.80V464.55M189.5,461.25V464.55M190.5,461.25V464.55M191.5,461.25V464.55M192.5,461.25V464.55M193.5,457.80V464.55M194.5,457.80V464.55M195.5,461.25V464.55M196.5,461.25V464.55M197.5,461.25V464.55M198.5,461.25V464.55M199.5,461.25V464.55M200.5,457.80V464.55M201.5,461.25V464.55M202.5,457.80V464.55M203.5,461.25V464.55M204.5,461.25V464.55M205.5,461.25V464.55M206.5,457.80V464.55M207.5,457.80V464.55M208.5,457.80V464.55M209.5,457.80V464.55M210.5,461.25V464.55M211.5,461.25V464.55M212.5,457.80V464.55M213.5,457.80V464.55M214.5,457.80V464.55M215.5,457.80V464.55M216.5,457.80V464.55M217.5,461.25V464.55M218.5,461.25V464.55M219.5,461.25V464.55M220.5,461.25V464.55M221.5,457.80V464.55M222.5,461.25V464.55M223.5,461.25V464.55M224.5,461.25V464.55M225.5,461.25V464.55M226.5,457.80V464.55M227.5,461.25V464.55M228.5,461.25V464.55M229.5,461.25V464.55M230.5,461.25V464.55" stroke="#ff0000" stroke-width="1.05" fill="none"/>
<path d="M231.0,462.4 L231.4,418.8 L231.8,440.0 L232.3,452.0 L233.0,456.5" fill="none" stroke="#ff0000" stroke-width="1.0" stroke-linejoin="miter" stroke-miterlimit="20"/>
<path d="M233.5,454.15V457.85M234.5,454.15V457.85M235.5,454.15V461.35M236.5,454.15V461.35M237.5,454.15V461.35M238.5,454.15V457.85M239.5,454.15V457.85M240.5,454.15V457.85M241.5,454.15V457.85M242.5,454.15V461.35M243.5,454.15V457.85M244.5,454.15V461.35M245.5,454.15V457.85M246.5,454.15V457.85M247.5,454.15V461.35M248.5,454.15V457.85M249.5,454.15V461.35M250.5,454.15V457.85M251.5,454.15V461.35M252.5,454.15V457.85M253.5,454.15V461.35M254.5,454.15V457.85M255.5,454.15V457.85M256.5,454.15V461.35M257.5,454.15V457.85M258.5,454.15V461.35M259.5,454.15V457.85M260.5,454.15V457.85M261.5,454.15V457.85M262.5,454.15V457.85M263.5,454.15V457.85M264.5,454.15V457.85M265.5,454.15V457.85M266.5,454.15V457.85M267.5,454.15V457.85M268.5,454.15V461.35M269.5,454.15V461.35M270.5,454.15V457.85M271.5,454.15V457.85M272.5,454.15V461.35M273.5,454.15V457.85M274.5,454.15V461.35M275.5,454.15V457.85M276.5,454.15V457.85M277.5,454.15V461.35M278.5,454.15V457.85M279.5,454.15V457.85M280.5,454.15V457.85M281.5,454.15V457.85M282.5,454.15V461.35M283.5,454.15V457.85M284.5,454.15V457.85M285.5,454.15V461.35M286.5,454.15V457.85M287.5,454.15V457.85M288.5,454.15V461.35M289.5,454.15V457.85M290.5,454.15V457.85M291.5,454.15V457.85M292.5,454.15V461.35M293.5,454.15V457.85M294.5,454.15V461.35M295.5,454.15V457.85M296.5,454.15V461.35M297.5,454.15V461.35M298.5,454.15V457.85M299.5,454.15V457.85M300.5,454.15V457.85M301.5,454.15V457.85M302.5,454.15V457.85M303.5,454.15V457.85M304.5,454.15V461.35M305.5,454.15V461.35M306.5,454.15V457.85M307.5,454.15V457.85M308.5,454.15V461.35M309.5,454.15V457.85M310.5,454.15V457.85M311.5,454.15V457.85M312.5,454.15V457.85M313.5,454.15V457.85M314.5,454.15V457.85M315.5,454.15V457.85M316.5,454.15V461.35M317.5,454.15V461.35M318.5,454.15V457.85M319.5,454.15V457.85M320.5,454.15V457.85M321.5,454.15V461.35M322.5,454.15V457.85M323.5,454.15V457.85M324.5,454.15V461.35M325.5,454.15V461.35M326.5,454.15V457.85M327.5,454.15V461.35M328.5,454.15V457.85M329.5,454.15V457.85M330.5,454.15V457.85M331.5,454.15V457.85M332.5,454.15V461.35M333.5,454.15V457.85M334.5,454.15V461.35M335.5,454.15V457.85M336.5,454.15V457.85M337.5,454.15V457.85M338.5,454.15V461.35M339.5,454.15V457.85M340.5,454.15V457.85M341.5,454.15V457.85M342.5,454.15V457.85M343.5,454.15V461.35M344.5,454.15V457.85M345.5,454.15V457.85M346.5,454.15V461.35M347.5,454.15V457.85M348.5,454.15V457.85M349.5,454.15V457.85M350.5,454.15V457.85M351.5,454.15V461.35M352.5,454.15V457.85M353.5,454.15V457.85M354.5,454.15V461.35M355.5,454.15V457.85M356.5,454.15V457.85M357.5,454.15V461.35M358.5,454.15V457.85M359.5,454.15V457.85M360.5,454.15V461.35M361.5,454.15V461.35M362.5,454.15V457.85M363.5,454.15V457.85M364.5,454.15V457.85M365.5,454.15V457.85M366.5,454.15V461.35M367.5,454.15V461.35M368.5,454.15V457.85M369.5,454.15V457.85M370.5,454.15V457.85M371.5,454.15V457.85M372.5,454.15V457.85M373.5,454.15V457.85M374.5,454.15V461.35M375.5,454.15V457.85M376.5,454.15V457.85M377.5,454.15V457.85M378.5,454.15V461.35M379.5,454.15V457.85M380.5,454.15V457.85M381.5,454.15V457.85M382.5,454.15V457.85M383.5,454.15V457.85M384.5,454.15V457.85M385.5,454.15V461.35M386.5,454.15V457.85M387.5,454.15V457.85M388.5,454.15V457.85M389.5,454.15V457.85M390.5,454.15V461.35M391.5,454.15V457.85M392.5,454.15V457.85M393.5,454.15V457.85M394.5,454.15V457.85M395.5,454.15V461.35M396.5,454.15V461.35M397.5,454.15V457.85M398.5,454.15V461.35M399.5,454.15V461.35M400.5,454.15V457.85M401.5,454.15V457.85M402.5,454.15V461.35M403.5,454.15V457.85M404.5,454.15V461.35M405.5,454.15V457.85M406.5,454.15V461.35M407.5,454.15V457.85M408.5,454.15V461.35M409.5,454.15V461.35M410.5,454.15V461.35M411.5,454.15V457.85M412.5,454.15V461.35M413.5,454.15V461.35M414.5,454.15V457.85M415.5,454.15V457.85M416.5,454.15V457.85M417.5,454.15V461.35M418.5,454.15V457.85M419.5,454.15V457.85M420.5,454.15V457.85M421.5,454.15V457.85M422.5,454.15V461.35M423.5,454.15V461.35M424.5,454.15V461.35M425.5,454.15V457.85M426.5,454.15V457.85M427.5,454.15V461.35M428.5,454.15V457.85M429.5,454.15V457.85" stroke="#ff0000" stroke-width="1.05" fill="none"/>
<path d="M76.0,535.4 L78.0,510.0 L80.0,486.0 L81.5,462.0 L83.0,443.0 L85.0,430.0 L86.6,422.0 L88.6,414.5" fill="none" stroke="#008000" stroke-width="1.7" stroke-linejoin="round" stroke-linecap="butt"/>
<path d="M88.5,406.80V418.50M89.5,402.90V414.60M90.5,402.90V414.60M91.5,406.80V414.60M92.5,402.90V414.60M93.5,402.90V414.60M94.5,402.90V410.70M95.5,406.80V414.60M96.5,406.80V414.60M97.5,410.70V418.50M98.5,410.70V418.50M99.5,410.70V422.40M100.5,414.60V426.30M101.5,414.60V426.30M102.5,418.50V426.30M103.5,418.50V426.30M104.5,422.40V430.20M105.5,422.40V434.10M106.5,426.30V434.10M107.5,426.30V434.10M108.5,430.20V434.10M109.5,426.30V438.00M110.5,430.20V438.00M111.5,434.10V441.90M112.5,434.10V441.90M113.5,438.00V445.80M114.5,438.00V449.70M115.5,438.00V445.80M116.5,441.90V445.80M117.5,441.90V449.70M118.5,441.90V449.70M119.5,441.90V449.70M120.5,441.90V449.70M121.5,445.80V449.70M122.5,445.80V453.60M123.5,441.90V453.60M124.5,445.80V453.60M125.5,445.80V453.60M126.5,445.80V453.60M127.5,445.80V457.50M128.5,445.80V457.50M129.5,449.70V453.60M130.5,449.70V457.50M131.5,449.70V457.50M132.5,449.70V457.50M133.5,449.70V461.40M134.5,449.70V461.40M135.5,449.70V457.50M136.5,449.70V461.40M137.5,453.60V461.40M138.5,453.60V461.40M139.5,453.60V465.30M140.5,453.60V465.30M141.5,453.60V465.30M142.5,453.60V465.30M143.5,453.60V465.30M144.5,457.50V465.30M145.5,457.50V465.30M146.5,457.50V465.30M147.5,457.50V465.30M148.5,457.50V469.20M149.5,457.50V469.20M150.5,457.50V469.20M151.5,457.50V469.20M152.5,457.50V469.20M153.5,461.40V469.20M154.5,461.40V469.20M155.5,461.40V469.20M156.5,461.40V473.10M157.5,461.40V473.10M158.5,461.40V469.20M159.5,465.30V469.20M160.5,465.30V473.10M161.5,465.30V473.10M162.5,465.30V473.10M163.5,465.30V473.10M164.5,465.30V473.10M165.5,465.30V477.00M166.5,465.30V477.00M167.5,469.20V477.00M168.5,469.20V477.00M169.5,469.20V477.00M170.5,469.20V477.00M171.5,469.20V477.00M172.5,469.20V477.00M173.5,469.20V477.00M174.5,469.20V477.00M175.5,469.20V480.90M176.5,469.20V480.90M177.5,473.10V480.90M178.5,473.10V480.90M179.5,473.10V480.90M180.5,473.10V480.90M181.5,473.10V480.90M182.5,473.10V480.90M183.5,473.10V480.90M184.5,473.10V480.90M185.5,473.10V480.90M186.5,473.10V480.90M187.5,473.10V480.90M188.5,473.10V484.80M189.5,473.10V484.80M190.5,473.10V480.90M191.5,473.10V484.80M192.5,473.10V480.90M193.5,473.10V484.80M194.5,473.10V480.90M195.5,477.00V484.80M196.5,473.10V484.80M197.5,477.00V484.80M198.5,477.00V484.80M199.5,477.00V484.80M200.5,477.00V484.80M201.5,477.00V484.80M202.5,473.10V484.80M203.5,477.00V484.80M204.5,477.00V484.80M205.5,477.00V484.80M206.5,477.00V484.80M207.5,477.00V484.80M208.5,477.00V484.80M209.5,477.00V488.70M210.5,477.00V484.80M211.5,477.00V484.80M212.5,477.00V484.80M213.5,480.90V484.80M214.5,477.00V488.70M215.5,477.00V484.80M216.5,480.90V488.70M217.5,480.90V488.70M218.5,480.90V488.70M219.5,480.90V488.70M220.5,480.90V488.70M221.5,480.90V488.70M222.5,480.90V488.70M223.5,480.90V488.70M224.5,480.90V492.60M225.5,480.90V488.70M226.5,480.90V488.70M227.5,480.90V492.60M228.5,480.90V488.70M229.5,480.90V488.70M230.5,480.90V488.70" stroke="#008000" stroke-width="1.05" fill="none"/>
<path d="M230.5,483.0 L231.5,500.0 L232.2,520.0 L232.8,531.0" fill="none" stroke="#008000" stroke-width="1.6" stroke-linejoin="round" stroke-linecap="butt"/>
<path d="M233.5,531.10V535.30M234.5,531.10V535.30M235.5,527.20V535.30M236.5,531.10V535.30M237.5,527.20V535.30M238.5,531.10V535.30M239.5,531.10V535.30M240.5,527.20V535.30M241.5,531.10V535.30M242.5,531.10V535.30M243.5,531.10V535.30M244.5,531.10V535.30M245.5,527.20V535.30M246.5,531.10V535.30M247.5,527.20V535.30M248.5,531.10V535.30M249.5,531.10V535.30M250.5,531.10V535.30M251.5,527.20V535.30M252.5,531.10V535.30M253.5,531.10V535.30M254.5,531.10V535.30M255.5,531.10V535.30M256.5,531.10V535.30M257.5,527.20V535.30M258.5,531.10V535.30M259.5,527.20V535.30M260.5,527.20V535.30M261.5,531.10V535.80M262.5,531.10V535.30M263.5,531.10V535.30M264.5,527.20V535.30M265.5,531.10V535.30M266.5,531.10V535.30M267.5,527.20V535.30M268.5,531.10V535.30M269.5,527.20V535.30M270.5,527.20V535.30M271.5,527.20V535.30M272.5,531.10V535.30M273.5,531.10V535.30M274.5,527.20V535.30M275.5,527.20V535.30M276.5,531.10V535.30M277.5,531.10V535.30M278.5,531.10V535.30M279.5,527.20V535.30M280.5,527.20V535.30M281.5,531.10V535.30M282.5,531.10V535.30M283.5,531.10V535.30M284.5,527.20V535.30M285.5,531.10V535.30M286.5,531.10V535.30M287.5,531.10V535.30M288.5,531.10V535.30M289.5,531.10V535.30M290.5,531.10V535.30M291.5,527.20V535.30M292.5,527.20V535.30M293.5,527.20V535.30M294.5,531.10V535.30M295.5,531.10V535.30M296.5,531.10V535.30M297.5,527.20V535.30M298.5,531.10V535.30M299.5,527.20V535.30M300.5,531.10V535.30M301.5,531.10V535.30M302.5,527.20V535.30M303.5,531.10V535.30M304.5,531.10V535.30M305.5,531.10V535.30M306.5,531.10V535.30M307.5,531.10V535.30M308.5,531.10V535.30M309.5,531.10V535.30M310.5,531.10V535.30M311.5,527.20V535.30M312.5,531.10V535.30M313.5,531.10V535.30M314.5,531.10V535.30M315.5,531.10V535.30M316.5,527.20V535.30M317.5,527.20V535.30M318.5,531.10V535.30M319.5,527.20V535.30M320.5,527.20V535.30M321.5,531.10V535.30M322.5,531.10V535.30M323.5,531.10V535.30M324.5,531.10V535.30M325.5,531.10V535.30M326.5,527.20V535.30M327.5,527.20V535.30M328.5,527.20V535.30M329.5,531.10V535.80M330.5,531.10V535.30M331.5,531.10V535.30M332.5,527.20V535.30M333.5,531.10V535.30M334.5,531.10V535.30M335.5,527.20V535.30M336.5,531.10V535.30M337.5,531.10V535.30M338.5,531.10V535.30M339.5,527.20V535.30M340.5,531.10V535.30M341.5,527.20V535.30M342.5,531.10V535.30M343.5,531.10V535.30M344.5,531.10V535.30M345.5,527.20V535.30M346.5,527.20V535.30M347.5,531.10V535.30M348.5,531.10V535.30M349.5,527.20V535.30M350.5,527.20V535.30M351.5,527.20V535.30M352.5,531.10V535.30M353.5,531.10V535.30M354.5,527.20V535.80M355.5,531.10V535.30M356.5,527.20V535.30M357.5,527.20V535.30M358.5,527.20V535.30M359.5,527.20V535.30M360.5,531.10V535.30M361.5,531.10V535.30M362.5,531.10V535.30M363.5,531.10V535.30M364.5,531.10V535.30M365.5,531.10V535.30M366.5,531.10V535.80M367.5,531.10V535.30M368.5,527.20V535.30M369.5,531.10V535.30M370.5,527.20V535.30M371.5,531.10V535.30M372.5,531.10V535.30M373.5,531.10V535.30M374.5,527.20V535.30M375.5,531.10V535.30M376.5,527.20V535.30M377.5,531.10V535.30M378.5,531.10V535.30M379.5,531.10V535.30M380.5,527.20V535.30M381.5,527.20V535.30M382.5,531.10V535.30M383.5,531.10V535.30M384.5,531.10V535.30M385.5,527.20V535.30M386.5,531.10V535.30M387.5,531.10V535.30M388.5,531.10V535.30M389.5,527.20V535.30M390.5,531.10V535.30M391.5,531.10V535.30M392.5,531.10V535.30M393.5,531.10V535.30M394.5,527.20V535.30M395.5,531.10V535.30M396.5,531.10V535.30M397.5,527.20V535.30M398.5,527.20V535.30M399.5,531.10V535.30M400.5,527.20V535.30M401.5,531.10V535.30M402.5,531.10V535.30M403.5,531.10V535.30M404.5,531.10V535.30M405.5,531.10V535.30M406.5,527.20V535.30M407.5,527.20V535.30M408.5,531.10V535.30M409.5,531.10V535.30M410.5,527.20V535.30M411.5,527.20V535.30M412.5,531.10V535.30M413.5,531.10V535.30M414.5,527.20V535.30M415.5,527.20V535.30M416.5,531.10V535.30M417.5,527.20V535.30M418.5,531.10V535.30M419.5,531.10V535.30M420.5,531.10V535.30M421.5,531.10V535.30M422.5,531.10V535.30M423.5,527.20V535.30M424.5,531.10V535.30M425.5,531.10V535.30M426.5,531.10V535.30M427.5,531.10V535.30M428.5,531.10V535.30M429.5,527.20V535.30" stroke="#008000" stroke-width="1.05" fill="none"/>
<path d="M598.4,537.2 L598.7,534.9 L599.0,532.7 L599.3,530.4 L599.6,528.1 L599.9,525.9 L600.2,523.6 L600.5,521.4 L600.8,519.1 L601.1,516.8 L601.4,514.6 L601.7,512.3 L602.0,510.0 L602.3,507.8 L602.6,505.5 L602.9,503.4 L603.2,501.4 L603.5,499.5 L603.8,497.5 L604.1,495.6 L604.4,493.6 L604.7,491.7 L605.0,489.7 L605.3,487.8 L605.6,485.8 L605.9,483.9 L606.2,481.9 L606.5,479.9 L606.8,477.9 L607.1,475.8 L607.4,473.8 L607.7,471.8 L608.0,469.8 L608.3,467.8 L608.6,465.8 L608.9,463.7 L609.2,461.7 L609.5,459.7 L609.8,458.2 L610.1,456.7 L610.4,455.2 L610.7,453.7 L611.0,452.2 L611.3,450.7 L611.6,449.2 L611.9,447.6 L612.2,446.1 L612.5,444.6 L612.8,443.1 L613.1,441.6 L613.4,440.1 L613.7,438.6 L614.0,437.1 L614.3,435.8 L614.6,434.4 L614.9,433.1 L615.2,431.7 L615.5,430.4 L615.8,429.0 L616.1,427.7 L616.4,426.3 L616.7,424.9 L617.0,423.6 L617.3,422.2 L617.6,420.9 L617.9,419.5 L618.2,418.2 L618.5,417.1 L618.8,416.1 L619.1,415.2 L619.4,414.2 L619.7,413.3 L620.0,412.3 L620.3,411.4 L620.6,410.4 L620.9,409.5 L621.2,408.5 L621.5,407.6 L621.8,406.6 L622.1,405.7 L622.4,404.7 L622.7,403.8 L623.0,402.8 L623.3,401.9 L623.6,400.9 L623.9,400.0 L624.2,399.1 L624.5,398.1 L624.8,397.2 L625.1,396.2 L625.4,395.3 L625.7,394.4 L626.0,393.4 L626.3,392.5 L626.6,391.5 L626.9,390.6 L627.2,389.7 L627.5,388.7 L627.8,387.8 L628.1,386.8 L628.4,385.9 L628.7,384.9 L629.0,384.0 L629.3,383.1 L629.6,382.1 L629.9,381.2 L630.2,380.2 L630.5,379.3 L630.8,378.7 L631.1,378.0 L631.4,377.4 L631.7,376.7 L632.0,376.1 L632.3,375.4 L632.6,374.8 L632.9,374.1 L633.2,373.5 L633.5,372.8 L633.8,372.2 L634.1,371.5 L634.4,370.9 L634.7,370.2 L635.0,369.6 L635.3,368.9 L635.6,368.3 L635.9,367.6 L636.2,367.0 L636.5,366.3 L636.8,365.7 L637.1,365.0 L637.4,364.4 L637.7,363.7" fill="none" stroke="#008000" stroke-width="1.7" stroke-linejoin="round" stroke-linecap="butt"/>
<path d="M621.5,404.10V409.70M622.5,398.70V407.00M623.5,396.00V404.30M624.5,393.30V401.60M625.5,387.90V396.20M626.5,385.20V393.50M627.5,382.50V393.50M628.5,379.80V390.80M629.5,377.10V385.40M630.5,377.10V382.70M631.5,374.40V380.00M632.5,369.00V380.00M633.5,369.00V377.30M634.5,366.30V374.60M635.5,366.30V371.90M636.5,360.90V369.20M637.5,360.90V369.20M638.5,355.50V366.50M639.5,358.20V366.50M640.5,355.50V361.10M641.5,352.80V361.10M642.5,350.10V358.40M643.5,347.40V355.70M644.5,347.40V355.70M645.5,347.40V353.00M646.5,344.70V355.70M647.5,344.70V350.30M648.5,344.70V350.30M649.5,344.70V350.30M650.5,342.00V350.30M651.5,342.00V347.60M652.5,342.00V347.60M653.5,342.00V350.30M654.5,339.30V347.60M655.5,342.00V347.60M656.5,339.30V347.60M657.5,342.00V347.60M658.5,339.30V347.60M659.5,339.30V347.60M660.5,339.30V347.60M661.5,339.30V347.60M662.5,339.30V347.60M663.5,342.00V347.60M664.5,342.00V347.60M665.5,339.30V347.60M666.5,339.30V347.60M667.5,342.00V347.60M668.5,342.00V347.60M669.5,339.30V347.60M670.5,342.00V347.60M671.5,342.00V350.30M672.5,342.00V347.60M673.5,342.00V350.30M674.5,342.00V350.30M675.5,344.70V350.30M676.5,344.70V350.30M677.5,344.70V350.30M678.5,344.70V350.30M679.5,347.40V353.00M680.5,344.70V353.00M681.5,347.40V353.00M682.5,347.40V353.00M683.5,347.40V355.70M684.5,347.40V355.70M685.5,350.10V355.70M686.5,350.10V355.70M687.5,350.10V358.40M688.5,350.10V361.10M689.5,352.80V358.40M690.5,350.10V361.10M691.5,352.80V361.10M692.5,355.50V361.10M693.5,355.50V361.10M694.5,355.50V363.80M695.5,358.20V363.80M696.5,358.20V366.50M697.5,355.50V366.50M698.5,358.20V366.50M699.5,360.90V366.50M700.5,358.20V366.50M701.5,360.90V369.20M702.5,360.90V366.50M703.5,360.90V369.20M704.5,363.60V371.90M705.5,360.90V371.90M706.5,363.60V371.90M707.5,366.30V371.90M708.5,366.30V374.60M709.5,366.30V374.60M710.5,369.00V371.90M711.5,366.30V377.30M712.5,366.30V377.30M713.5,369.00V374.60M714.5,369.00V377.30M715.5,371.70V377.30M716.5,371.70V377.30M717.5,371.70V377.30M718.5,374.40V380.00M719.5,374.40V380.00M720.5,374.40V382.70M721.5,374.40V380.00M722.5,377.10V382.70M723.5,377.10V382.70M724.5,377.10V382.70M725.5,377.10V385.40M726.5,377.10V382.70M727.5,379.80V385.40M728.5,379.80V385.40M729.5,379.80V388.10M730.5,379.80V388.10M731.5,379.80V388.10M732.5,382.50V390.80M733.5,379.80V388.10M734.5,382.50V390.80M735.5,382.50V388.10M736.5,382.50V390.80M737.5,385.20V390.80M738.5,385.20V390.80M739.5,385.20V393.50M740.5,387.90V393.50M741.5,385.20V393.50M742.5,387.90V393.50M743.5,387.90V393.50M744.5,387.90V396.20M745.5,387.90V396.20M746.5,387.90V396.20M747.5,387.90V396.20M748.5,390.60V396.20M749.5,390.60V398.90M750.5,393.30V398.90M751.5,393.30V398.90M752.5,393.30V398.90M753.5,393.30V401.60M754.5,396.00V401.60M755.5,393.30V401.60M756.5,396.00V401.60M757.5,396.00V401.60" stroke="#008000" stroke-width="1.05" fill="none"/>
<path d="M758.0,401.0 L759.0,409.5 L760.6,441.1 L762.1,482.2 L763.7,517.0 L765.3,529.6 L768.5,535.2" fill="none" stroke="#008000" stroke-width="1.6" stroke-linejoin="round" stroke-linecap="butt"/>
<path d="M767.5,534.60V537.60M768.5,534.60V537.60M769.5,534.60V537.60M770.5,534.60V537.60M771.5,534.60V537.60M772.5,534.60V537.60M773.5,534.60V537.60M774.5,534.60V537.60M775.5,534.60V537.60M776.5,534.60V537.60M777.5,534.60V537.60M778.5,534.60V537.60M779.5,534.60V537.60M780.5,534.60V537.60M781.5,534.60V537.60M782.5,534.60V537.60M783.5,534.60V537.60M784.5,534.60V537.60M785.5,534.60V537.60M786.5,534.60V537.60M787.5,534.60V537.60M788.5,531.90V537.60M789.5,534.60V537.60M790.5,534.60V537.60M791.5,534.60V537.60M792.5,531.90V537.60M793.5,534.60V537.60M794.5,534.60V537.60M795.5,534.60V537.60M796.5,534.60V537.60M797.5,534.60V537.60M798.5,534.60V537.60M799.5,534.60V537.60M800.5,534.60V537.60M801.5,534.60V537.60M802.5,534.60V537.60M803.5,534.60V537.60M804.5,534.60V537.60M805.5,534.60V537.60M806.5,534.60V537.60M807.5,534.60V537.60M808.5,534.60V537.60M809.5,534.60V537.60M810.5,534.60V537.60M811.5,531.90V537.60M812.5,534.60V537.60M813.5,534.60V537.60M814.5,534.60V537.60M815.5,534.60V537.60M816.5,534.60V537.60M817.5,534.60V537.60M818.5,531.90V537.60M819.5,534.60V537.60M820.5,534.60V537.60M821.5,534.60V537.60M822.5,534.60V537.60M823.5,534.60V537.60M824.5,534.60V537.60M825.5,534.60V537.60M826.5,534.60V537.60M827.5,531.90V537.60M828.5,534.60V537.60M829.5,534.60V537.60M830.5,534.60V537.60M831.5,534.60V537.60M832.5,534.60V537.60M833.5,534.60V537.60M834.5,534.60V537.60M835.5,534.60V537.60M836.5,534.60V537.60M837.5,534.60V537.60M838.5,534.60V537.60M839.5,534.60V537.60M840.5,534.60V537.60M841.5,534.60V537.60M842.5,534.60V537.60M843.5,531.90V537.60M844.5,534.60V537.60M845.5,534.60V537.60M846.5,534.60V537.60M847.5,534.60V537.60M848.5,534.60V537.60M849.5,534.60V537.60M850.5,531.90V537.60M851.5,534.60V537.60M852.5,534.60V537.60M853.5,534.60V537.60M854.5,534.60V537.60M855.5,534.60V537.60M856.5,534.60V537.60M857.5,534.60V537.60M858.5,534.60V537.60M859.5,531.90V537.60M860.5,534.60V537.60M861.5,534.60V537.60M862.5,531.90V537.60M863.5,534.60V537.60M864.5,534.60V537.60M865.5,534.60V537.60M866.5,534.60V537.60M867.5,534.60V537.60M868.5,534.60V537.60M869.5,534.60V537.60M870.5,534.60V537.60M871.5,534.60V537.60M872.5,534.60V537.60M873.5,531.90V537.60M874.5,534.60V537.60M875.5,534.60V537.60M876.5,534.60V537.60M877.5,534.60V537.60M878.5,534.60V537.60M879.5,534.60V537.60M880.5,534.60V537.60M881.5,534.60V537.60M882.5,534.60V537.60M883.5,534.60V537.60M884.5,531.90V537.60M885.5,534.60V537.60M886.5,534.60V537.60M887.5,534.60V537.60M888.5,534.60V537.60M889.5,534.60V537.60M890.5,534.60V537.60M891.5,534.60V537.60M892.5,534.60V537.60M893.5,534.60V537.60M894.5,534.60V537.60M895.5,534.60V537.60M896.5,534.60V537.60M897.5,534.60V537.60M898.5,531.90V537.60M899.5,534.60V537.60M900.5,534.60V537.60M901.5,534.60V537.60M902.5,531.90V537.60M903.5,534.60V537.60M904.5,534.60V537.60M905.5,534.60V537.60M906.5,534.60V537.60M907.5,534.60V537.60M908.5,534.60V537.60M909.5,534.60V537.60M910.5,534.60V537.60M911.5,534.60V537.60M912.5,531.90V537.60M913.5,534.60V537.60M914.5,534.60V537.60M915.5,534.60V537.60M916.5,534.60V537.60M917.5,534.60V537.60M918.5,534.60V537.60M919.5,534.60V537.60M920.5,534.60V537.60M921.5,534.60V537.60M922.5,531.90V537.60M923.5,534.60V537.60M924.5,534.60V537.60M925.5,534.60V537.60M926.5,534.60V537.60M927.5,534.60V537.60M928.5,534.60V537.60M929.5,534.60V537.60M930.5,534.60V537.60M931.5,534.60V537.60M932.5,534.60V537.60M933.5,534.60V537.60M934.5,534.60V537.60M935.5,534.60V537.60M936.5,534.60V537.60M937.5,534.60V537.60M938.5,534.60V537.60M939.5,534.60V537.60M940.5,531.90V537.60M941.5,531.90V537.60M942.5,534.60V537.60M943.5,534.60V537.60M944.5,534.60V537.60M945.5,534.60V537.60M946.5,534.60V537.60M947.5,534.60V537.60M948.5,534.60V537.60" stroke="#008000" stroke-width="1.05" fill="none"/>
<path d="M596.8,456.4 L599.8,456.4" fill="none" stroke="#ff0000" stroke-width="6.5" stroke-linejoin="round" stroke-linecap="butt"/>
<path d="M600.5,466.20V472.80M601.5,466.20V472.80M602.5,466.20V472.80M603.5,466.20V472.80M604.5,466.20V472.80M605.5,466.20V472.80M606.5,466.20V472.80M607.5,466.20V472.80M608.5,466.20V472.80M609.5,466.20V472.80M610.5,466.20V476.10M611.5,469.50V476.10M612.5,469.50V476.10M613.5,469.50V472.80M614.5,469.50V476.10M615.5,469.50V476.10M616.5,469.50V476.10M617.5,469.50V476.10M618.5,469.50V479.40M619.5,472.80V476.10M620.5,472.80V479.40M621.5,472.80V479.40M622.5,472.80V479.40M623.5,472.80V479.40M624.5,472.80V479.40M625.5,472.80V479.40M626.5,472.80V479.40M627.5,472.80V479.40M628.5,472.80V479.40M629.5,472.80V479.40M630.5,472.80V479.40M631.5,472.80V482.70M632.5,479.40V482.70M633.5,476.10V482.70M634.5,479.40V482.70M635.5,476.10V482.70M636.5,476.10V482.70M637.5,476.10V482.70M638.5,476.10V482.70M639.5,476.10V482.70M640.5,476.10V482.70M641.5,476.10V482.70M642.5,479.40V482.70M643.5,476.10V482.70M644.5,476.10V482.70M645.5,476.10V482.70M646.5,479.40V482.70M647.5,476.10V482.70M648.5,476.10V482.70M649.5,476.10V482.70M650.5,479.40V482.70M651.5,476.10V486.00M652.5,476.10V482.70M653.5,476.10V482.70M654.5,476.10V482.70M655.5,476.10V482.70M656.5,476.10V482.70M657.5,479.40V482.70M658.5,479.40V482.70M659.5,476.10V482.70M660.5,476.10V482.70M661.5,476.10V482.70M662.5,479.40V482.70M663.5,476.10V482.70M664.5,476.10V482.70M665.5,479.40V482.70M666.5,476.10V482.70M667.5,476.10V482.70M668.5,476.10V482.70M669.5,476.10V482.70M670.5,479.40V482.70M671.5,476.10V482.70M672.5,476.10V486.00M673.5,476.10V482.70M674.5,479.40V482.70M675.5,476.10V482.70M676.5,476.10V482.70M677.5,476.10V482.70M678.5,476.10V482.70M679.5,479.40V482.70M680.5,476.10V482.70M681.5,479.40V482.70M682.5,479.40V482.70M683.5,476.10V482.70M684.5,479.40V486.00M685.5,476.10V482.70M686.5,476.10V482.70M687.5,479.40V482.70M688.5,476.10V482.70M689.5,479.40V482.70M690.5,476.10V482.70M691.5,476.10V482.70M692.5,476.10V482.70M693.5,476.10V482.70M694.5,479.40V482.70M695.5,476.10V482.70M696.5,476.10V482.70M697.5,476.10V482.70M698.5,476.10V482.70M699.5,479.40V482.70M700.5,476.10V482.70M701.5,476.10V482.70M702.5,479.40V482.70M703.5,476.10V482.70M704.5,476.10V482.70M705.5,476.10V482.70M706.5,476.10V482.70M707.5,476.10V482.70M708.5,476.10V482.70M709.5,476.10V482.70M710.5,476.10V482.70M711.5,476.10V482.70M712.5,476.10V482.70M713.5,476.10V482.70M714.5,476.10V482.70M715.5,476.10V482.70M716.5,476.10V482.70M717.5,476.10V482.70M718.5,476.10V482.70M719.5,476.10V482.70M720.5,476.10V482.70M721.5,476.10V482.70M722.5,476.10V482.70M723.5,476.10V482.70M724.5,476.10V482.70M725.5,476.10V482.70M726.5,476.10V482.70M727.5,476.10V479.40M728.5,476.10V482.70M729.5,476.10V482.70M730.5,476.10V482.70M731.5,476.10V482.70M732.5,476.10V482.70M733.5,476.10V482.70M734.5,476.10V482.70M735.5,476.10V479.40M736.5,476.10V482.70M737.5,476.10V482.70M738.5,476.10V482.70M739.5,476.10V482.70M740.5,476.10V482.70M741.5,476.10V479.40M742.5,476.10V482.70M743.5,472.80V482.70M744.5,476.10V482.70M745.5,476.10V479.40M746.5,476.10V482.70M747.5,476.10V479.40M748.5,476.10V482.70M749.5,476.10V479.40M750.5,472.80V482.70M751.5,476.10V482.70M752.5,476.10V479.40M753.5,476.10V482.70M754.5,476.10V479.40M755.5,476.10V479.40M756.5,476.10V482.70M757.5,476.10V479.40" stroke="#ff0000" stroke-width="1.05" fill="none"/>
<path d="M599.8,456.0 L600.2,467.0" fill="none" stroke="#ff0000" stroke-width="2" stroke-linejoin="round" stroke-linecap="butt"/>
<path d="M757.8,479.0 L758.6,455.0 L759.3,438.5 L760.5,442.0 L763.0,451.0 L765.3,460.5" fill="none" stroke="#ff0000" stroke-width="1.7" stroke-linejoin="round" stroke-linecap="butt"/>
<path d="M765.5,456.80V463.40M766.5,460.10V463.40M767.5,456.80V463.40M768.5,456.80V463.40M769.5,456.80V463.40M770.5,456.80V463.40M771.5,456.80V460.10M772.5,456.80V463.40M773.5,456.80V463.40M774.5,456.80V463.40M775.5,456.80V463.40M776.5,456.80V463.40M777.5,456.80V463.40M778.5,456.80V463.40M779.5,456.80V463.40M780.5,456.80V463.40M781.5,456.80V463.40M782.5,456.80V463.40M783.5,456.80V463.40M784.5,456.80V463.40M785.5,456.80V463.40M786.5,456.80V463.40M787.5,456.80V463.40M788.5,456.80V463.40M789.5,456.80V463.40M790.5,456.80V463.40M791.5,456.80V463.40M792.5,456.80V463.40M793.5,456.80V463.40M794.5,456.80V463.40M795.5,456.80V463.40M796.5,456.80V463.40M797.5,456.80V463.40M798.5,456.80V463.40M799.5,456.80V463.40M800.5,456.80V463.40M801.5,456.80V463.40M802.5,456.80V463.40M803.5,456.80V463.40M804.5,456.80V463.40M805.5,456.80V463.40M806.5,456.80V463.40M807.5,456.80V463.40M808.5,456.80V463.40M809.5,456.80V463.40M810.5,456.80V463.40M811.5,456.80V463.40M812.5,456.80V463.40M813.5,456.80V463.40M814.5,456.80V463.40M815.5,456.80V463.40M816.5,456.80V463.40M817.5,456.80V463.40M818.5,456.80V463.40M819.5,456.80V463.40M820.5,456.80V463.40M821.5,456.80V463.40M822.5,456.80V463.40M823.5,456.80V463.40M824.5,456.80V463.40M825.5,456.80V463.40M826.5,456.80V463.40M827.5,456.80V463.40M828.5,456.80V463.40M829.5,456.80V463.40M830.5,456.80V463.40M831.5,456.80V463.40M832.5,456.80V463.40M833.5,456.80V463.40M834.5,456.80V463.40M835.5,453.50V463.40M836.5,456.80V463.40M837.5,456.80V463.40M838.5,456.80V463.40M839.5,456.80V463.40M840.5,456.80V463.40M841.5,456.80V463.40M842.5,456.80V463.40M843.5,456.80V463.40M844.5,456.80V463.40M845.5,456.80V463.40M846.5,456.80V463.40M847.5,456.80V463.40M848.5,456.80V463.40M849.5,456.80V463.40M850.5,456.80V463.40M851.5,456.80V460.10M852.5,456.80V463.40M853.5,456.80V463.40M854.5,456.80V463.40M855.5,456.80V463.40M856.5,456.80V463.40M857.5,456.80V463.40M858.5,456.80V463.40M859.5,456.80V463.40M860.5,456.80V463.40M861.5,456.80V463.40M862.5,456.80V463.40M863.5,456.80V463.40M864.5,456.80V463.40M865.5,456.80V463.40M866.5,456.80V463.40M867.5,456.80V463.40M868.5,456.80V463.40M869.5,456.80V463.40M870.5,456.80V463.40M871.5,456.80V463.40M872.5,456.80V463.40M873.5,456.80V463.40M874.5,456.80V463.40M875.5,456.80V463.40M876.5,456.80V463.40M877.5,456.80V463.40M878.5,456.80V463.40M879.5,456.80V463.40M880.5,456.80V463.40M881.5,456.80V463.40M882.5,456.80V463.40M883.5,456.80V463.40M884.5,456.80V463.40M885.5,456.80V463.40M886.5,456.80V463.40M887.5,456.80V463.40M888.5,456.80V463.40M889.5,456.80V463.40M890.5,456.80V463.40M891.5,456.80V463.40M892.5,456.80V463.40M893.5,456.80V463.40M894.5,456.80V463.40M895.5,456.80V463.40M896.5,456.80V463.40M897.5,456.80V463.40M898.5,460.10V463.40M899.5,456.80V463.40M900.5,456.80V463.40M901.5,456.80V463.40M902.5,456.80V463.40M903.5,456.80V463.40M904.5,456.80V463.40M905.5,456.80V463.40M906.5,456.80V463.40M907.5,456.80V463.40M908.5,456.80V463.40M909.5,456.80V463.40M910.5,456.80V463.40M911.5,456.80V463.40M912.5,456.80V460.10M913.5,456.80V463.40M914.5,456.80V463.40M915.5,456.80V463.40M916.5,456.80V463.40M917.5,456.80V463.40M918.5,456.80V463.40M919.5,456.80V463.40M920.5,456.80V463.40M921.5,456.80V463.40M922.5,456.80V463.40M923.5,456.80V463.40M924.5,456.80V463.40M925.5,456.80V463.40M926.5,456.80V463.40M927.5,456.80V463.40M928.5,456.80V463.40M929.5,456.80V463.40M930.5,453.50V463.40M931.5,456.80V463.40M932.5,456.80V463.40M933.5,456.80V463.40M934.5,456.80V463.40M935.5,456.80V463.40M936.5,456.80V463.40M937.5,456.80V463.40M938.5,456.80V463.40M939.5,456.80V463.40M940.5,456.80V463.40M941.5,456.80V463.40M942.5,456.80V463.40M943.5,453.50V463.40M944.5,456.80V463.40M945.5,456.80V463.40M946.5,456.80V463.40M947.5,456.80V463.40M948.5,456.80V463.40" stroke="#ff0000" stroke-width="1.05" fill="none"/>
<path d="M75.5,535.6 L75.5,528 L77.2,526 L79.3,527 L79.6,535.6 Z" fill="#008000"/>
<path d="M596.6,537.8 L596.6,534.6 L600.6,534.6 L600.6,537.8 Z" fill="#008000"/>
<line x1="78.4" y1="16.5" x2="249.7" y2="16.5" stroke="#000" stroke-width="1.0" stroke-dasharray="2.9,1.4"/>
<line x1="228.6" y1="34.5" x2="249.7" y2="34.5" stroke="#000" stroke-width="1.0" stroke-dasharray="2.9,1.4"/>
<line x1="82.5" y1="78.5" x2="224.2" y2="78.5" stroke="#000" stroke-width="2.1" stroke-dasharray="6.4,4.6" stroke-dashoffset="-3"/>
<path d="M92.74,73.60 L83.14,78.50 L92.74,83.40" fill="none" stroke="#000" stroke-width="2.4" stroke-linejoin="miter" stroke-linecap="butt"/>
<path d="M213.96,73.60 L223.56,78.50 L213.96,83.40" fill="none" stroke="#000" stroke-width="2.4" stroke-linejoin="miter" stroke-linecap="butt"/>
<line x1="298.6" y1="121.5" x2="270" y2="156.5" stroke="#000" stroke-width="2.2"/>
<path d="M269.6,147.5 L268.6,157.8 L280.9,154.3" fill="none" stroke="#000" stroke-width="2.2"/>
<line x1="601" y1="38.5" x2="778.5" y2="38.5" stroke="#000" stroke-width="1.0" stroke-dasharray="2.9,1.4"/>
<line x1="758.4" y1="45.5" x2="778.3" y2="45.5" stroke="#000" stroke-width="1.0" stroke-dasharray="2.9,1.4"/>
<line x1="598.9" y1="82.1" x2="752.6" y2="82.1" stroke="#000" stroke-width="2.1" stroke-dasharray="6.4,4.6" stroke-dashoffset="-3"/>
<path d="M609.14,77.20 L599.54,82.10 L609.14,87.00" fill="none" stroke="#000" stroke-width="2.4" stroke-linejoin="miter" stroke-linecap="butt"/>
<path d="M742.36,77.20 L751.96,82.10 L742.36,87.00" fill="none" stroke="#000" stroke-width="2.4" stroke-linejoin="miter" stroke-linecap="butt"/>
<ellipse cx="788.9" cy="158.9" rx="19.3" ry="15.0" fill="none" stroke="#000" stroke-width="2.2"/>
<ellipse cx="385.8" cy="446.25" rx="9.9" ry="19.7" fill="none" stroke="#ff0000" stroke-width="2.9"/>
<line x1="376.3" y1="432.6" x2="353.4" y2="432.6" stroke="#ff0000" stroke-width="2.3"/>
<path d="M367.05,427.00 L355.95,432.60 L367.05,438.20" fill="none" stroke="#ff0000" stroke-width="2.3" stroke-linejoin="miter" stroke-linecap="butt"/>
<ellipse cx="274.75" cy="516.25" rx="10.05" ry="19.75" fill="none" stroke="#008000" stroke-width="2.8"/>
<line x1="285.4" y1="503.4" x2="308.3" y2="503.4" stroke="#008000" stroke-width="2.3"/>
<path d="M295.56,497.90 L305.86,503.40 L295.56,508.90" fill="none" stroke="#008000" stroke-width="2.3" stroke-linejoin="miter" stroke-linecap="butt"/>
<ellipse cx="700.4" cy="362.0" rx="10.05" ry="19.75" fill="none" stroke="#008000" stroke-width="2.7"/>
<line x1="711.3" y1="349.4" x2="734.0" y2="349.4" stroke="#008000" stroke-width="2.3"/>
<path d="M721.12,343.95 L731.52,349.40 L721.12,354.85" fill="none" stroke="#008000" stroke-width="2.3" stroke-linejoin="miter" stroke-linecap="butt"/>
<ellipse cx="869.25" cy="454.75" rx="9.75" ry="19.75" fill="none" stroke="#ff0000" stroke-width="2.7"/>
<line x1="860.0" y1="441.1" x2="837.4" y2="441.1" stroke="#ff0000" stroke-width="2.3"/>
<path d="M850.37,435.90 L839.97,441.10 L850.37,446.30" fill="none" stroke="#ff0000" stroke-width="2.3" stroke-linejoin="miter" stroke-linecap="butt"/>
<text x="99.62" y="106.27" font-size="22.81" fill="#000" textLength="81.68" lengthAdjust="spacingAndGlyphs"  >19.5 μs</text>
<text x="624.45" y="109.66" font-size="23.37" fill="#000" textLength="82.46" lengthAdjust="spacingAndGlyphs"  >20.4 μs</text>
<text x="264.08" y="108.52" font-size="21.81" fill="#000" textLength="147.83" lengthAdjust="spacingAndGlyphs"  >Gate damage</text>
<text x="713.88" y="204.34" font-size="21.7" fill="#000" textLength="147.43" lengthAdjust="spacingAndGlyphs"  >Gate damage</text>
<text x="267.44" y="32.0" font-size="15.8" fill="#000" textLength="22.96" lengthAdjust="spacingAndGlyphs" font-weight='bold' >&#916;V</text>
<text x="289.36" y="34.24" font-size="9.33" fill="#000" textLength="12.75" lengthAdjust="spacingAndGlyphs" font-weight='bold' >gs</text>
<text x="302.76" y="32.0" font-size="15.8" fill="#000" textLength="49.05" lengthAdjust="spacingAndGlyphs" font-weight='bold' >=1.7V</text>
<text x="787.14" y="47.5" font-size="16.09" fill="#000" textLength="22.86" lengthAdjust="spacingAndGlyphs" font-weight='bold' >&#916;V</text>
<text x="809.36" y="49.46" font-size="9.73" fill="#000" textLength="12.75" lengthAdjust="spacingAndGlyphs" font-weight='bold' >gs</text>
<text x="822.75" y="47.34" font-size="15.63" fill="#000" textLength="49.56" lengthAdjust="spacingAndGlyphs" font-weight='bold' >=1.0V</text>
<text transform="translate(357.9,231.5) skewX(-8)" x="0" y="0" font-size="35.53" fill="#00f" textLength="23.63" lengthAdjust="spacingAndGlyphs" font-style='italic' >V</text>
<text x="382.11" y="239.71" font-size="22.8" fill="#00f" textLength="26.08" lengthAdjust="spacingAndGlyphs"  >gs</text>
<text transform="translate(873.33,129.0) skewX(-8)" x="0" y="0" font-size="36.98" fill="#00f" textLength="24.14" lengthAdjust="spacingAndGlyphs" font-style='italic' >V</text>
<text x="899.43" y="136.33" font-size="23.2" fill="#00f" textLength="25.54" lengthAdjust="spacingAndGlyphs"  >gs</text>
<text transform="translate(318.9,406.5) skewX(-8)" x="0" y="0" font-size="36.98" fill="#f00" textLength="23.63" lengthAdjust="spacingAndGlyphs" font-style='italic' >V</text>
<text x="344.23" y="414.16" font-size="23.51" fill="#f00" textLength="25.65" lengthAdjust="spacingAndGlyphs"  >ds</text>
<text transform="translate(814.91,417.5) skewX(-8)" x="0" y="0" font-size="36.99" fill="#f00" textLength="23.15" lengthAdjust="spacingAndGlyphs" font-style='italic' >V</text>
<text x="839.94" y="425.66" font-size="24.32" fill="#f00" textLength="25.33" lengthAdjust="spacingAndGlyphs"  >ds</text>
<text x="316.9" y="495.56" font-size="23.78" fill="#008000" textLength="13.97" lengthAdjust="spacingAndGlyphs"  >d</text>
<text x="727.93" y="337.87" font-size="23.24" fill="#008000" textLength="13.47" lengthAdjust="spacingAndGlyphs"  >d</text>
<text x="153.11" y="277.49" font-size="20.95" fill="#000" textLength="181.37" lengthAdjust="spacingAndGlyphs" font-weight='bold' >Planar MOSFET</text>
<text x="674.86" y="282.88" font-size="21.89" fill="#000" textLength="186.46" lengthAdjust="spacingAndGlyphs" font-weight='bold' >Trench MOSFET</text>
<text x="201.87" y="580.33" font-size="20.32" fill="#000" textLength="88.24" lengthAdjust="spacingAndGlyphs"  >Time [μs]</text>
<text x="713.18" y="581.3" font-size="20.0" fill="#000" textLength="86.91" lengthAdjust="spacingAndGlyphs"  >Time [μs]</text>
<text x="238.26" y="625.17" font-size="24.89" fill="#000" textLength="28.88" lengthAdjust="spacingAndGlyphs" font-family='Liberation Serif' >(a)</text>
<text x="757.84" y="624.94" font-size="24.56" fill="#000" textLength="30.88" lengthAdjust="spacingAndGlyphs" font-family='Liberation Serif' >(b)</text>
<path d="M312.90,462.60 L323.00,462.60 L322.40,465.00 L319.90,465.00 L313.60,484.80 L316.00,484.80 L315.40,487.20 L305.30,487.20 L305.90,484.80 L309.90,484.80 L316.20,465.00 L312.30,465.00Z" fill="#008000"/>
<path d="M723.90,305.00 L734.00,305.00 L733.40,307.40 L730.90,307.40 L724.60,327.20 L727.00,327.20 L726.40,329.60 L716.30,329.60 L716.90,327.20 L720.90,327.20 L727.20,307.40 L723.30,307.40Z" fill="#008000"/>
</svg></body></html>
